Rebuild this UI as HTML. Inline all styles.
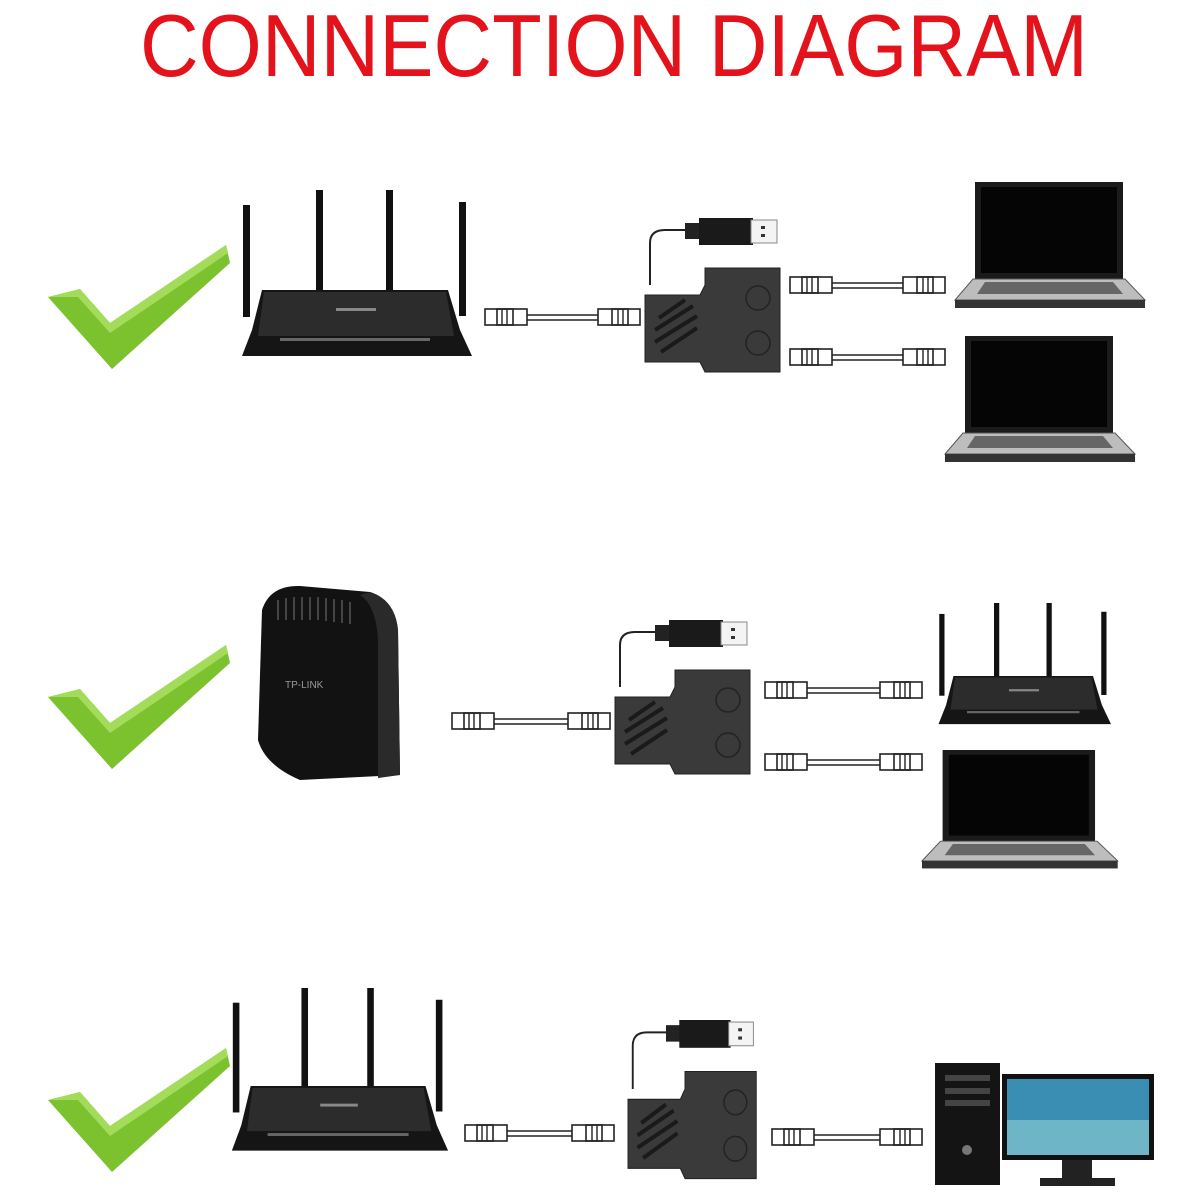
<!DOCTYPE html>
<html><head><meta charset="utf-8"><style>
html,body{margin:0;padding:0;background:#fff;}
svg{display:block;}
</style></head><body>
<svg width="1200" height="1200" viewBox="0 0 1200 1200" xmlns="http://www.w3.org/2000/svg">
<defs>
  <g id="check">
    <polygon points="0,52 32,44 62,78 178,0 182,18 64,124" fill="#7cc22e"/>
    <polygon points="0,52 32,44 62,78 178,0 180,8 62,88 30,52" fill="#a3dc5a"/>
  </g>
  <g id="router">
    <rect x="3" y="15" width="7" height="112" fill="#111"/>
    <rect x="76" y="0" width="7" height="108" fill="#111"/>
    <rect x="146" y="0" width="7" height="108" fill="#111"/>
    <rect x="219" y="12" width="7" height="114" fill="#111"/>
    <polygon points="22,100 208,100 220,140 232,166 2,166 12,140" fill="#151515"/>
    <polygon points="24,102 206,102 214,146 18,146" fill="#2c2c2c"/>
    <rect x="96" y="118" width="40" height="3" fill="#888"/>
    <rect x="40" y="148" width="150" height="3" fill="#666"/>
  </g>
  <g id="plug">
    <rect x="0" y="-8" width="42" height="16" fill="#fff" stroke="#222" stroke-width="1.6"/>
    <rect x="12" y="-8" width="16" height="16" fill="none" stroke="#222" stroke-width="1.6"/>
    <line x1="17" y1="-8" x2="17" y2="8" stroke="#222" stroke-width="1.4"/>
    <line x1="22" y1="-8" x2="22" y2="8" stroke="#222" stroke-width="1.4"/>
  </g>
  <g id="splitter">
    <path d="M5,67 L5,25 Q5,12 20,12 L40,12" fill="none" stroke="#222" stroke-width="2"/>
    <rect x="40" y="5" width="16" height="16" fill="#222"/>
    <rect x="54" y="0" width="54" height="27" fill="#1a1a1a"/>
    <rect x="106" y="2" width="26" height="23" fill="#f4f4f4" stroke="#888" stroke-width="1"/>
    <rect x="116" y="8" width="4" height="3" fill="#333"/>
    <rect x="116" y="16" width="4" height="3" fill="#333"/>
    <polygon points="0,77 55,77 60,67 60,50 135,50 135,154 60,154 55,144 0,144" fill="#3a3a3a" stroke="#222" stroke-width="1"/>
    <line x1="14" y1="100" x2="40" y2="82" stroke="#1a1a1a" stroke-width="4"/>
    <line x1="10" y1="112" x2="48" y2="88" stroke="#1a1a1a" stroke-width="4"/>
    <line x1="10" y1="124" x2="52" y2="98" stroke="#1a1a1a" stroke-width="4"/>
    <line x1="16" y1="134" x2="52" y2="110" stroke="#1a1a1a" stroke-width="4"/>
    <circle cx="113" cy="80" r="12" fill="none" stroke="#222" stroke-width="1.5"/>
    <circle cx="113" cy="125" r="12" fill="none" stroke="#222" stroke-width="1.5"/>
  </g>
  <g id="laptop">
    <rect x="20" y="0" width="148" height="97" fill="#1b1b1b"/>
    <rect x="26" y="5" width="136" height="86" fill="#050505"/>
    <polygon points="18,97 170,97 190,118 0,118" fill="#bdbdbd" stroke="#555" stroke-width="1"/>
    <polygon points="30,100 158,100 168,112 22,112" fill="#666"/>
    <rect x="0" y="118" width="190" height="8" fill="#333"/>
  </g>
</defs>

<text x="140" y="76" font-family="Liberation Sans, sans-serif" font-size="88" fill="#e4121b" textLength="948" lengthAdjust="spacingAndGlyphs">CONNECTION DIAGRAM</text>

<!-- Row 1 -->
<use href="#check" transform="translate(48,245)"/>
<use href="#router" transform="translate(240,190)"/>
<line x1="527" y1="315" x2="598" y2="315" stroke="#222" stroke-width="1.5"/><line x1="527" y1="320" x2="598" y2="320" stroke="#222" stroke-width="1.5"/>
<use href="#plug" transform="translate(485,317)"/><use href="#plug" transform="translate(640,317) scale(-1,1)"/>
<use href="#splitter" transform="translate(645,218)"/>
<line x1="832" y1="283" x2="905" y2="283" stroke="#222" stroke-width="1.5"/><line x1="832" y1="288" x2="905" y2="288" stroke="#222" stroke-width="1.5"/>
<use href="#plug" transform="translate(790,285)"/><use href="#plug" transform="translate(945,285) scale(-1,1)"/>
<line x1="832" y1="355" x2="905" y2="355" stroke="#222" stroke-width="1.5"/><line x1="832" y1="360" x2="905" y2="360" stroke="#222" stroke-width="1.5"/>
<use href="#plug" transform="translate(790,357)"/><use href="#plug" transform="translate(945,357) scale(-1,1)"/>
<use href="#laptop" transform="translate(955,182)"/>
<use href="#laptop" transform="translate(945,336)"/>

<!-- Row 2 -->
<use href="#check" transform="translate(48,645)"/>
<path d="M262,610 Q270,585 300,586 L370,592 Q395,600 398,630 L400,775 L300,780 Q265,765 258,740 Z" fill="#121212"/>
<path d="M370,592 Q395,600 398,630 L400,775 L378,778 L378,640 Q376,605 360,595 Z" fill="#2a2a2a"/>
<g stroke="#444" stroke-width="2"><line x1="278" y1="600" x2="278" y2="620"/><line x1="286" y1="598" x2="286" y2="620"/><line x1="294" y1="597" x2="294" y2="620"/><line x1="302" y1="597" x2="302" y2="620"/><line x1="310" y1="597" x2="310" y2="620"/><line x1="318" y1="597" x2="318" y2="620"/><line x1="326" y1="598" x2="326" y2="621"/><line x1="334" y1="599" x2="334" y2="622"/><line x1="342" y1="600" x2="342" y2="623"/><line x1="350" y1="602" x2="350" y2="624"/></g>
<text x="285" y="688" font-family="Liberation Sans, sans-serif" font-size="10" fill="#999">TP-LINK</text>
<line x1="452" y1="719" x2="570" y2="719" stroke="#222" stroke-width="1.5"/><line x1="452" y1="724" x2="570" y2="724" stroke="#222" stroke-width="1.5"/>
<use href="#plug" transform="translate(452,721)"/><use href="#plug" transform="translate(610,721) scale(-1,1)"/>
<use href="#splitter" transform="translate(615,620)"/>
<line x1="805" y1="688" x2="882" y2="688" stroke="#222" stroke-width="1.5"/><line x1="805" y1="693" x2="882" y2="693" stroke="#222" stroke-width="1.5"/>
<use href="#plug" transform="translate(765,690)"/><use href="#plug" transform="translate(922,690) scale(-1,1)"/>
<line x1="805" y1="760" x2="882" y2="760" stroke="#222" stroke-width="1.5"/><line x1="805" y1="765" x2="882" y2="765" stroke="#222" stroke-width="1.5"/>
<use href="#plug" transform="translate(765,762)"/><use href="#plug" transform="translate(922,762) scale(-1,1)"/>
<use href="#router" transform="translate(937,603) scale(0.75,0.73)"/>
<use href="#laptop" transform="translate(922,750) scale(1.03,0.94)"/>

<!-- Row 3 -->
<use href="#check" transform="translate(48,1048)"/>
<use href="#router" transform="translate(230,988) scale(0.94,0.98)"/>
<line x1="505" y1="1131" x2="575" y2="1131" stroke="#222" stroke-width="1.5"/><line x1="505" y1="1136" x2="575" y2="1136" stroke="#222" stroke-width="1.5"/>
<use href="#plug" transform="translate(465,1133)"/><use href="#plug" transform="translate(614,1133) scale(-1,1)"/>
<use href="#splitter" transform="translate(628,1020) scale(0.95,1.03)"/>
<line x1="812" y1="1135" x2="882" y2="1135" stroke="#222" stroke-width="1.5"/><line x1="812" y1="1140" x2="882" y2="1140" stroke="#222" stroke-width="1.5"/>
<use href="#plug" transform="translate(772,1137)"/><use href="#plug" transform="translate(922,1137) scale(-1,1)"/>
<rect x="935" y="1063" width="65" height="122" fill="#141414"/>
<rect x="945" y="1075" width="45" height="6" fill="#444"/>
<rect x="945" y="1088" width="45" height="6" fill="#444"/>
<rect x="945" y="1100" width="45" height="6" fill="#444"/>
<circle cx="967" cy="1150" r="5" fill="#777"/>
<rect x="1002" y="1074" width="152" height="86" fill="#111"/>
<rect x="1007" y="1079" width="142" height="76" fill="#3a8db3"/>
<rect x="1007" y="1120" width="142" height="35" fill="#6fb5c8"/>
<rect x="1062" y="1160" width="30" height="18" fill="#222"/>
<rect x="1040" y="1178" width="75" height="8" fill="#222"/>
</svg>
</body></html>
